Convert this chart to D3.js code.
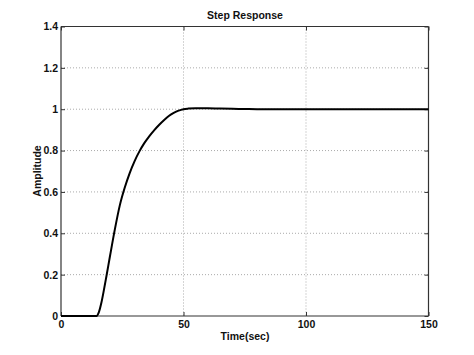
<!DOCTYPE html>
<html><head><meta charset="utf-8">
<script src="https://cdn.jsdelivr.net/npm/d3@7"></script>
<style>
html,body{margin:0;padding:0;background:#fff;}
svg{display:block;}
text{font-family:"Liberation Sans",Arial,Helvetica,sans-serif;font-weight:bold;fill:#111;}
</style></head>
<body>
<script>
const timeValues = [0,14.5,15.5,16.5,17.5,18.5,20,22,24,26,28,30,32,34,36,38,40,42,44,46,48,50,52,55,60,65,70,75,80,100,150];
const amplitudeValues = [0,0,0.02,0.065,0.125,0.19,0.29,0.42,0.535,0.62,0.69,0.748,0.796,0.836,0.869,0.898,0.924,0.947,0.967,0.982,0.993,1.0,1.003,1.005,1.005,1.003,1.002,1.001,1.0,1.0,1.0];
const xTicks = [0,50,100,150];
const yTicks = [0,0.2,0.4,0.6,0.8,1,1.2,1.4];
const yTickLabels = ["0","0.2","0.4","0.6","0.8","1","1.2","1.4"];

const W=474,H=355;
const L=61,R=428.5,T=26.5,B=316;
const svg=d3.select("body").append("svg").attr("width",W).attr("height",H);
const x=d3.scaleLinear().domain([0,150]).range([L,R]);
const y=d3.scaleLinear().domain([0,1.4]).range([B,T]);

// grid
const g=svg.append("g");
g.selectAll(".gx").data(xTicks.slice(1,-1)).enter().append("line")
 .attr("x1",d=>x(d)).attr("x2",d=>x(d)).attr("y1",T).attr("y2",B)
 .attr("stroke","#aaa").attr("stroke-width",1).attr("stroke-dasharray","1,2");
g.selectAll(".gy").data(yTicks.slice(1,-1)).enter().append("line")
 .attr("y1",d=>y(d)).attr("y2",d=>y(d)).attr("x1",L).attr("x2",R)
 .attr("stroke","#aaa").attr("stroke-width",1).attr("stroke-dasharray","1,2");

// axes with inward ticks
const xb=d3.axisBottom(x).tickValues(xTicks).tickSize(-4).tickPadding(5).tickFormat(d3.format("d"));
const xt=d3.axisTop(x).tickValues(xTicks).tickSize(-4).tickFormat("");
const yl=d3.axisLeft(y).tickValues(yTicks).tickSize(-4).tickPadding(3).tickFormat((d,i)=>yTickLabels[i]);
const yr=d3.axisRight(y).tickValues(yTicks).tickSize(-4).tickFormat("");
function style(sel){
  sel.selectAll("path").attr("stroke","#333").attr("stroke-width",1.2);
  sel.selectAll("line").attr("stroke","#333").attr("stroke-width",1);
  sel.selectAll("text").attr("font-size","10.5px").attr("font-family","Liberation Sans,Arial,sans-serif").attr("font-weight","bold").attr("fill","#111");
}
svg.append("g").attr("transform",`translate(0,${B})`).call(xb).call(style).call(s=>s.select(".domain").attr("d",`M${L},0H${R}`));
svg.append("g").attr("transform",`translate(0,${T})`).call(xt).call(style).call(s=>s.select(".domain").attr("d",`M${L},0H${R}`));
svg.append("g").attr("transform",`translate(${L},0)`).call(yl).call(style).call(s=>s.select(".domain").attr("d",`M0,${T}V${B}`));
svg.append("g").attr("transform",`translate(${R},0)`).call(yr).call(style).call(s=>s.select(".domain").attr("d",`M0,${T}V${B}`));

// curve
const data=timeValues.map((t,i)=>[t,amplitudeValues[i]]);
svg.append("path").datum(data)
 .attr("d",d3.line().x(d=>x(d[0])).y(d=>y(d[1])).curve(d3.curveMonotoneX))
 .attr("fill","none").attr("stroke","#000").attr("stroke-width",2);

// labels
svg.append("text").attr("x",245).attr("y",19).attr("text-anchor","middle").attr("font-size","10.5px").text("Step Response");
svg.append("text").attr("x",245).attr("y",340).attr("text-anchor","middle").attr("font-size","10.5px").text("Time(sec)");
svg.append("text").attr("transform","translate(40.5,171) rotate(-90)").attr("text-anchor","middle").attr("font-size","10.5px").text("Amplitude");
</script>
</body></html>
